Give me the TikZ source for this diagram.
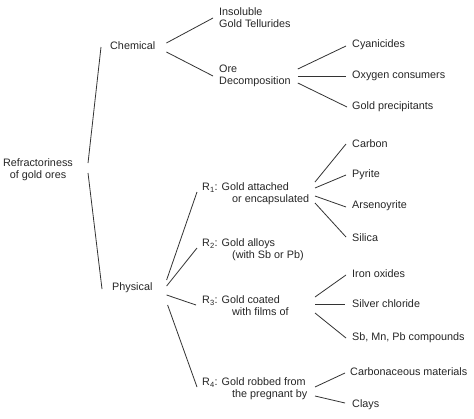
\documentclass[tikz,border=0pt]{standalone}
\usepackage{fontspec}
\setmainfont{Liberation Sans}
\usetikzlibrary{calc}
\begin{document}
\begin{tikzpicture}[x=1pt,y=-1pt,
  lbl/.style={inner sep=0pt, anchor=west, align=left, text=black!85, font=\fontsize{10.8}{12}\selectfont},
  link/.style={line width=0.8pt, draw=black!80}]
\useasboundingbox[fill=white] (0,0) rectangle (474,418);
% nodes
\node[lbl,anchor=center,align=center] (root) at (38,170) {Refractoriness\\of gold ores};
\node[lbl] (chem) at (110,46) {Chemical};
\node[lbl] (phys) at (112,288) {Physical};
\node[lbl] (ins) at (219,18) {Insoluble\\Gold Tellurides};
\node[lbl] (ore) at (219,76) {Ore\\Decomposition};
\node[lbl] (cyan) at (352,45) {Cyanicides};
\node[lbl] (oxy) at (352,76) {Oxygen consumers};
\node[lbl] (gp) at (352,107) {Gold precipitants};
\node[lbl] (r1) at (202,194) {R\textsubscript{1}: Gold attached\\\hspace*{30pt}or encapsulated};
\node[lbl] (r2) at (202,250) {R\textsubscript{2}: Gold alloys\\\hspace*{30pt}(with Sb or Pb)};
\node[lbl] (r3) at (202,306) {R\textsubscript{3}: Gold coated\\\hspace*{30pt}with films of};
\node[lbl] (r4) at (202,389) {R\textsubscript{4}: Gold robbed from\\\hspace*{30pt}the pregnant by};
\node[lbl] (carbon) at (352,144) {Carbon};
\node[lbl] (pyrite) at (352,175) {Pyrite};
\node[lbl] (arseno) at (352,206) {Arsenoyrite};
\node[lbl] (silica) at (352,238) {Silica};
\node[lbl] (iron) at (352,274) {Iron oxides};
\node[lbl] (silver) at (352,304) {Silver chloride};
\node[lbl] (sb) at (352,338) {Sb, Mn, Pb compounds};
\node[lbl] (carb) at (350,372) {Carbonaceous materials};
\node[lbl] (clays) at (352,405) {Clays};
% connectors
\draw[link] ($(root.east)+(15,-7)$) -- ($(chem.west)+(-9,1)$);
\draw[link] ($(root.east)+(15,3)$) -- ($(phys.west)+(-10,1)$);
\draw[link] ($(chem.east)+(11,-3)$) -- ($(ins.west)+(-6,0)$);
\draw[link] ($(chem.east)+(11,6)$) -- ($(ore.west)+(-6,0)$);
\draw[link] ($(ore.east)+(7,-7)$) -- ($(cyan.west)+(-6,1)$);
\draw[link] ($(ore.east)+(7,0)$) -- ($(oxy.west)+(-6,0)$);
\draw[link] ($(ore.east)+(7,7)$) -- ($(gp.west)+(-5,0)$);
\draw[link] ($(phys.east)+(14,-8)$) -- ($(r1.west)+(-5,-2)$);
\draw[link] ($(phys.east)+(14,-2)$) -- ($(r2.west)+(-5,-2)$);
\draw[link] ($(phys.east)+(14,7)$) -- ($(r3.west)+(-6,-1)$);
\draw[link] ($(phys.east)+(15,17)$) -- ($(r4.west)+(-5,-2)$);
\draw[link] ($(r1.west)+(113,-12)$) -- ($(carbon.west)+(-6,0)$);
\draw[link] ($(r1.west)+(113,-6)$) -- ($(pyrite.west)+(-6,0)$);
\draw[link] ($(r1.west)+(113,2)$) -- ($(arseno.west)+(-6,1)$);
\draw[link] ($(r1.west)+(113,9)$) -- ($(silica.west)+(-6,-1)$);
\draw[link] ($(r3.west)+(113,-9)$) -- ($(iron.west)+(-6,1)$);
\draw[link] ($(r3.west)+(113,-2)$) -- ($(silver.west)+(-7,0)$);
\draw[link] ($(r3.west)+(113,7)$) -- ($(sb.west)+(-6,0)$);
\draw[link] ($(r4.west)+(113,-2)$) -- ($(carb.west)+(-5,1)$);
\draw[link] ($(r4.west)+(113,7)$) -- ($(clays.west)+(-7,-2)$);
\end{tikzpicture}
\end{document}
